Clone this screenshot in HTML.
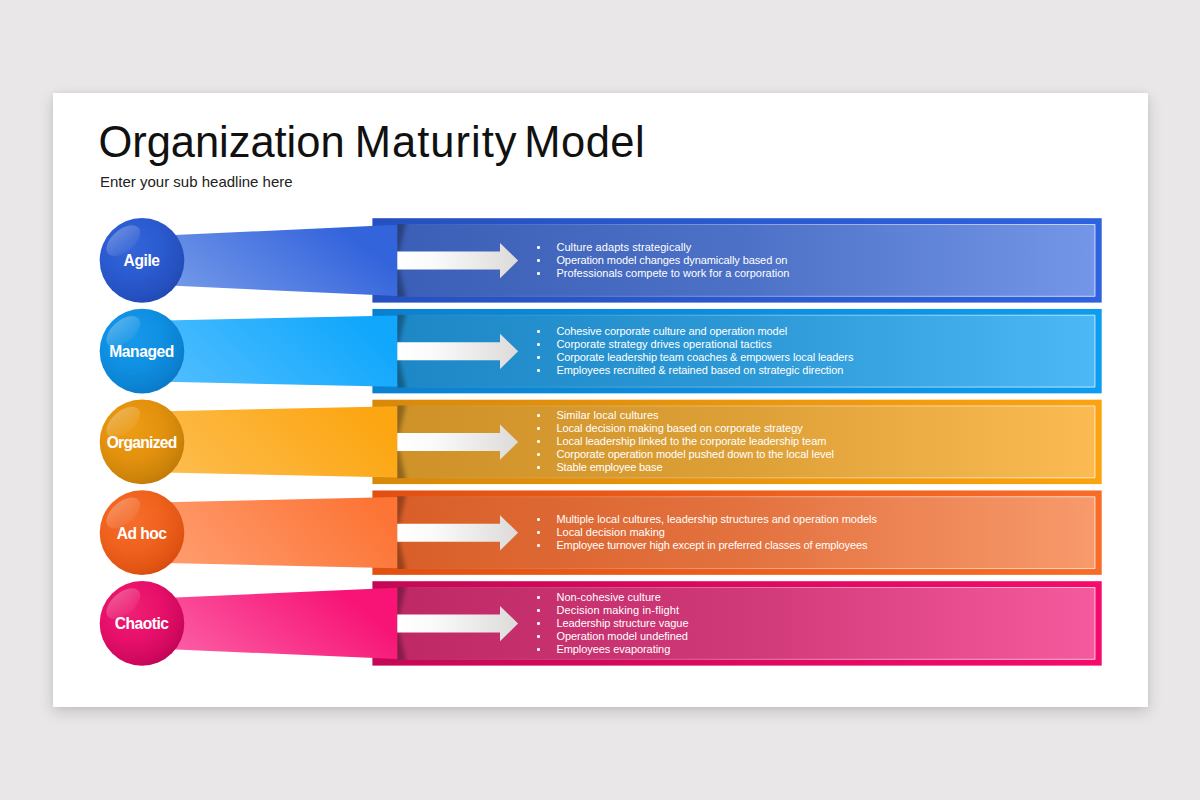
<!DOCTYPE html>
<html><head><meta charset="utf-8"><title>Organization Maturity Model</title>
<style>
html,body{margin:0;padding:0;}
body{width:1200px;height:800px;overflow:hidden;background:#e9e7e8;font-family:"Liberation Sans",sans-serif;position:relative;}
.slide{position:absolute;left:53px;top:93px;width:1095px;height:614px;background:#fff;box-shadow:0 5px 14px rgba(0,0,0,0.16),0 0 6px rgba(0,0,0,0.05);}
svg{position:absolute;left:0;top:0;}
h1{position:absolute;left:0;top:117.7px;margin:0;font-weight:400;font-size:43.5px;line-height:48px;color:#111;white-space:nowrap;}
h1 span{position:absolute;top:0;}
.sub{position:absolute;left:100px;top:173px;font-size:15px;line-height:18px;color:#222;white-space:nowrap;}
.lbl{position:absolute;left:91.6px;width:100px;text-align:center;color:#fff;font-weight:700;font-size:15.6px;line-height:20px;white-space:nowrap;letter-spacing:-0.42px;}
.li{position:absolute;left:556.4px;color:#fff;font-size:11px;line-height:13px;height:13px;white-space:nowrap;}
.li i{position:absolute;left:-19.5px;width:3px;height:3.1px;background:#fff;border-radius:1px;opacity:0.95;}
</style></head><body>
<div class="slide"></div>
<svg width="1200" height="800" viewBox="0 0 1200 800">
<defs>
<radialGradient id="sh" cx="0.5" cy="0.5" r="0.5"><stop offset="0" stop-color="#000" stop-opacity="0.34"/><stop offset="0.45" stop-color="#000" stop-opacity="0.15"/><stop offset="1" stop-color="#000" stop-opacity="0"/></radialGradient>
<filter id="bl" x="-50%" y="-20%" width="200%" height="140%"><feGaussianBlur stdDeviation="2.2"/></filter>
<linearGradient id="bd" gradientUnits="userSpaceOnUse" x1="397" y1="0" x2="1095" y2="0"><stop offset="0" stop-color="#fff" stop-opacity="0"/><stop offset="0.25" stop-color="#fff" stop-opacity="0.12"/><stop offset="0.6" stop-color="#fff" stop-opacity="0.4"/><stop offset="1" stop-color="#fff" stop-opacity="0.6"/></linearGradient>
<linearGradient id="ar" x1="0" y1="0" x2="1" y2="0"><stop offset="0" stop-color="#ffffff"/><stop offset="0.3" stop-color="#fafafa"/><stop offset="1" stop-color="#dddbda"/></linearGradient>
<linearGradient id="hl" x1="0" y1="0" x2="0" y2="1"><stop offset="0" stop-color="#fff" stop-opacity="0.26"/><stop offset="1" stop-color="#fff" stop-opacity="0.05"/></linearGradient>

<linearGradient id="t0" gradientUnits="userSpaceOnUse" x1="185" y1="286.2" x2="269.3" y2="174.4"><stop offset="0" stop-color="#7096e8"/><stop offset="1" stop-color="#3464dc"/></linearGradient>
<linearGradient id="p0" x1="0" y1="0" x2="1" y2="0"><stop offset="0" stop-color="#3b5fb6"/><stop offset="0.5" stop-color="#4d71c6"/><stop offset="1" stop-color="#7396e8"/></linearGradient>
<clipPath id="cp0"><rect x="397" y="224.00" width="60" height="72.8"/></clipPath>
<linearGradient id="o0" x1="0" y1="0" x2="1" y2="0"><stop offset="0" stop-color="#2550c0"/><stop offset="1" stop-color="#2f62e0"/></linearGradient>
<radialGradient id="c0" cx="0.38" cy="0.34" r="0.7"><stop offset="0" stop-color="#3464d8"/><stop offset="0.5" stop-color="#2b5bd0"/><stop offset="0.85" stop-color="#2550bf"/><stop offset="1" stop-color="#2149b4"/></radialGradient>
<linearGradient id="t1" gradientUnits="userSpaceOnUse" x1="185" y1="383.3" x2="299.6" y2="260.5"><stop offset="0" stop-color="#4cbcff"/><stop offset="1" stop-color="#10a7fc"/></linearGradient>
<linearGradient id="p1" x1="0" y1="0" x2="1" y2="0"><stop offset="0" stop-color="#1e88c6"/><stop offset="0.5" stop-color="#2d98d6"/><stop offset="1" stop-color="#4cb8f6"/></linearGradient>
<clipPath id="cp1"><rect x="397" y="314.75" width="60" height="72.8"/></clipPath>
<linearGradient id="o1" x1="0" y1="0" x2="1" y2="0"><stop offset="0" stop-color="#0a81d0"/><stop offset="1" stop-color="#0c9cf0"/></linearGradient>
<radialGradient id="c1" cx="0.38" cy="0.34" r="0.7"><stop offset="0" stop-color="#1898ea"/><stop offset="0.5" stop-color="#0f90e2"/><stop offset="0.85" stop-color="#0c82d2"/><stop offset="1" stop-color="#0a78c8"/></radialGradient>
<linearGradient id="t2" gradientUnits="userSpaceOnUse" x1="185" y1="474.1" x2="299.6" y2="351.2"><stop offset="0" stop-color="#fdbb4a"/><stop offset="1" stop-color="#fca612"/></linearGradient>
<linearGradient id="p2" x1="0" y1="0" x2="1" y2="0"><stop offset="0" stop-color="#ce9229"/><stop offset="0.5" stop-color="#dda037"/><stop offset="1" stop-color="#fbbb52"/></linearGradient>
<clipPath id="cp2"><rect x="397" y="405.50" width="60" height="72.8"/></clipPath>
<linearGradient id="o2" x1="0" y1="0" x2="1" y2="0"><stop offset="0" stop-color="#d8890a"/><stop offset="1" stop-color="#fba310"/></linearGradient>
<radialGradient id="c2" cx="0.38" cy="0.34" r="0.7"><stop offset="0" stop-color="#ec9c14"/><stop offset="0.5" stop-color="#e4920e"/><stop offset="0.85" stop-color="#ce840a"/><stop offset="1" stop-color="#c07a08"/></radialGradient>
<linearGradient id="t3" gradientUnits="userSpaceOnUse" x1="185" y1="564.4" x2="317.3" y2="445.3"><stop offset="0" stop-color="#ff9a6c"/><stop offset="1" stop-color="#fc7536"/></linearGradient>
<linearGradient id="p3" x1="0" y1="0" x2="1" y2="0"><stop offset="0" stop-color="#d95f29"/><stop offset="0.5" stop-color="#e3723f"/><stop offset="1" stop-color="#f89a6c"/></linearGradient>
<clipPath id="cp3"><rect x="397" y="496.25" width="60" height="72.8"/></clipPath>
<linearGradient id="o3" x1="0" y1="0" x2="1" y2="0"><stop offset="0" stop-color="#e15010"/><stop offset="1" stop-color="#f86c28"/></linearGradient>
<radialGradient id="c3" cx="0.38" cy="0.34" r="0.7"><stop offset="0" stop-color="#f66e2c"/><stop offset="0.5" stop-color="#f0621e"/><stop offset="0.85" stop-color="#e25514"/><stop offset="1" stop-color="#d84c0e"/></radialGradient>
<linearGradient id="t4" gradientUnits="userSpaceOnUse" x1="185" y1="649.9" x2="269.3" y2="538.1"><stop offset="0" stop-color="#fb5aa2"/><stop offset="1" stop-color="#f71476"/></linearGradient>
<linearGradient id="p4" x1="0" y1="0" x2="1" y2="0"><stop offset="0" stop-color="#be2965"/><stop offset="0.5" stop-color="#d03978"/><stop offset="1" stop-color="#f65a9e"/></linearGradient>
<clipPath id="cp4"><rect x="397" y="587.00" width="60" height="72.8"/></clipPath>
<linearGradient id="o4" x1="0" y1="0" x2="1" y2="0"><stop offset="0" stop-color="#c40856"/><stop offset="1" stop-color="#f60a6c"/></linearGradient>
<radialGradient id="c4" cx="0.38" cy="0.34" r="0.7"><stop offset="0" stop-color="#ee2074"/><stop offset="0.5" stop-color="#e8106a"/><stop offset="0.85" stop-color="#d1095e"/><stop offset="1" stop-color="#c20456"/></radialGradient>
</defs>

<g>
<rect x="372.4" y="218.20" width="729.3" height="84.4" fill="url(#o0)"/>
<rect x="397" y="224.00" width="698.4" height="72.8" fill="url(#p0)"/>
<g clip-path="url(#cp0)"><g filter="url(#bl)" fill="#000" fill-opacity="0.3"><polygon points="392,220.40 406.5,220.40 399,253.40 392,253.40"/><polygon points="392,300.40 406.5,300.40 399,267.40 392,267.40"/></g></g>
<path d="M397,224.50 H1094.9 V296.30 H397" fill="none" stroke="url(#bd)" stroke-width="1"/>
<polygon points="142,236.60 397.3,224.70 397.3,296.10 142,284.20" fill="url(#t0)"/>
<polygon points="397.3,251.60 500,251.60 500,242.90 518.1,260.60 500,278.30 500,269.60 397.3,269.60" fill="url(#ar)"/>
<circle cx="142" cy="260.40" r="42.3" fill="url(#c0)"/>
<ellipse cx="0" cy="0" rx="20" ry="11" transform="translate(123.3,240.60) rotate(-40)" fill="url(#hl)"/>
</g>
<g>
<rect x="372.4" y="308.95" width="729.3" height="84.4" fill="url(#o1)"/>
<rect x="397" y="314.75" width="698.4" height="72.8" fill="url(#p1)"/>
<g clip-path="url(#cp1)"><g filter="url(#bl)" fill="#000" fill-opacity="0.3"><polygon points="392,311.15 406.5,311.15 399,344.15 392,344.15"/><polygon points="392,391.15 406.5,391.15 399,358.15 392,358.15"/></g></g>
<path d="M397,315.25 H1094.9 V387.05 H397" fill="none" stroke="url(#bd)" stroke-width="1"/>
<polygon points="142,320.95 397.3,315.45 397.3,386.85 142,381.35" fill="url(#t1)"/>
<polygon points="397.3,342.35 500,342.35 500,333.65 518.1,351.35 500,369.05 500,360.35 397.3,360.35" fill="url(#ar)"/>
<circle cx="142" cy="351.15" r="42.3" fill="url(#c1)"/>
<ellipse cx="0" cy="0" rx="20" ry="11" transform="translate(123.3,331.35) rotate(-40)" fill="url(#hl)"/>
</g>
<g>
<rect x="372.4" y="399.70" width="729.3" height="84.4" fill="url(#o2)"/>
<rect x="397" y="405.50" width="698.4" height="72.8" fill="url(#p2)"/>
<g clip-path="url(#cp2)"><g filter="url(#bl)" fill="#000" fill-opacity="0.3"><polygon points="392,401.90 406.5,401.90 399,434.90 392,434.90"/><polygon points="392,481.90 406.5,481.90 399,448.90 392,448.90"/></g></g>
<path d="M397,406.00 H1094.9 V477.80 H397" fill="none" stroke="url(#bd)" stroke-width="1"/>
<polygon points="142,411.70 397.3,406.20 397.3,477.60 142,472.10" fill="url(#t2)"/>
<polygon points="397.3,433.10 500,433.10 500,424.40 518.1,442.10 500,459.80 500,451.10 397.3,451.10" fill="url(#ar)"/>
<circle cx="142" cy="441.90" r="42.3" fill="url(#c2)"/>
<ellipse cx="0" cy="0" rx="20" ry="11" transform="translate(123.3,422.10) rotate(-40)" fill="url(#hl)"/>
</g>
<g>
<rect x="372.4" y="490.45" width="729.3" height="84.4" fill="url(#o3)"/>
<rect x="397" y="496.25" width="698.4" height="72.8" fill="url(#p3)"/>
<g clip-path="url(#cp3)"><g filter="url(#bl)" fill="#000" fill-opacity="0.3"><polygon points="392,492.65 406.5,492.65 399,525.65 392,525.65"/><polygon points="392,572.65 406.5,572.65 399,539.65 392,539.65"/></g></g>
<path d="M397,496.75 H1094.9 V568.55 H397" fill="none" stroke="url(#bd)" stroke-width="1"/>
<polygon points="142,502.85 397.3,496.95 397.3,568.35 142,562.45" fill="url(#t3)"/>
<polygon points="397.3,523.85 500,523.85 500,515.15 518.1,532.85 500,550.55 500,541.85 397.3,541.85" fill="url(#ar)"/>
<circle cx="142" cy="532.65" r="42.3" fill="url(#c3)"/>
<ellipse cx="0" cy="0" rx="20" ry="11" transform="translate(123.3,512.85) rotate(-40)" fill="url(#hl)"/>
</g>
<g>
<rect x="372.4" y="581.20" width="729.3" height="84.4" fill="url(#o4)"/>
<rect x="397" y="587.00" width="698.4" height="72.8" fill="url(#p4)"/>
<g clip-path="url(#cp4)"><g filter="url(#bl)" fill="#000" fill-opacity="0.3"><polygon points="392,583.40 406.5,583.40 399,616.40 392,616.40"/><polygon points="392,663.40 406.5,663.40 399,630.40 392,630.40"/></g></g>
<path d="M397,587.50 H1094.9 V659.30 H397" fill="none" stroke="url(#bd)" stroke-width="1"/>
<polygon points="142,598.90 397.3,587.70 397.3,659.10 142,647.90" fill="url(#t4)"/>
<polygon points="397.3,614.60 500,614.60 500,605.90 518.1,623.60 500,641.30 500,632.60 397.3,632.60" fill="url(#ar)"/>
<circle cx="142" cy="623.40" r="42.3" fill="url(#c4)"/>
<ellipse cx="0" cy="0" rx="20" ry="11" transform="translate(123.3,603.60) rotate(-40)" fill="url(#hl)"/>
</g>
</svg>
<h1><span style="left:98.4px;letter-spacing:-0.04px">Organization</span><span style="left:354.8px;letter-spacing:1.0px">Maturity</span><span style="left:524.3px;letter-spacing:0.45px">Model</span></h1>
<div class="sub">Enter your sub headline here</div>
<div class="lbl" style="top:251.30px;letter-spacing:-0.42px">Agile</div>
<div class="li" style="top:241.00px;letter-spacing:0.079px"><i style="top:5.2px"></i><span>Culture adapts strategically</span></div>
<div class="li" style="top:254.00px;letter-spacing:-0.091px"><i style="top:5.2px"></i><span>Operation model changes dynamically based on</span></div>
<div class="li" style="top:267.00px;letter-spacing:0.003px"><i style="top:5.2px"></i><span>Professionals compete to work for a corporation</span></div>
<div class="lbl" style="top:342.05px;letter-spacing:-0.42px">Managed</div>
<div class="li" style="top:325.00px;letter-spacing:-0.091px"><i style="top:5.2px"></i><span>Cohesive corporate culture and operation model</span></div>
<div class="li" style="top:338.00px;letter-spacing:0.002px"><i style="top:5.2px"></i><span>Corporate strategy drives operational tactics</span></div>
<div class="li" style="top:351.00px;letter-spacing:-0.110px"><i style="top:5.2px"></i><span>Corporate leadership team coaches &amp; empowers local leaders</span></div>
<div class="li" style="top:364.00px;letter-spacing:-0.070px"><i style="top:5.2px"></i><span>Employees recruited &amp; retained based on strategic direction</span></div>
<div class="lbl" style="top:432.80px;letter-spacing:-0.72px">Organized</div>
<div class="li" style="top:409.00px;letter-spacing:0.065px"><i style="top:5.2px"></i><span>Similar local cultures</span></div>
<div class="li" style="top:422.00px;letter-spacing:-0.040px"><i style="top:5.2px"></i><span>Local decision making based on corporate strategy</span></div>
<div class="li" style="top:435.00px;letter-spacing:-0.061px"><i style="top:5.2px"></i><span>Local leadership linked to the corporate leadership team</span></div>
<div class="li" style="top:448.00px;letter-spacing:-0.068px"><i style="top:5.2px"></i><span>Corporate operation model pushed down to the local level</span></div>
<div class="li" style="top:461.00px;letter-spacing:-0.143px"><i style="top:5.2px"></i><span>Stable employee base</span></div>
<div class="lbl" style="top:523.55px;letter-spacing:-0.55px">Ad hoc</div>
<div class="li" style="top:513.00px;letter-spacing:-0.024px"><i style="top:5.2px"></i><span>Multiple local cultures, leadership structures and operation models</span></div>
<div class="li" style="top:526.00px;letter-spacing:0.018px"><i style="top:5.2px"></i><span>Local decision making</span></div>
<div class="li" style="top:539.00px;letter-spacing:-0.131px"><i style="top:5.2px"></i><span>Employee turnover high except in preferred classes of employees</span></div>
<div class="lbl" style="top:614.30px;letter-spacing:-0.5px">Chaotic</div>
<div class="li" style="top:591.00px;letter-spacing:0.063px"><i style="top:5.2px"></i><span>Non-cohesive culture</span></div>
<div class="li" style="top:604.00px;letter-spacing:0.148px"><i style="top:5.2px"></i><span>Decision making in-flight</span></div>
<div class="li" style="top:617.00px;letter-spacing:-0.046px"><i style="top:5.2px"></i><span>Leadership structure vague</span></div>
<div class="li" style="top:630.00px;letter-spacing:-0.048px"><i style="top:5.2px"></i><span>Operation model undefined</span></div>
<div class="li" style="top:643.00px;letter-spacing:-0.055px"><i style="top:5.2px"></i><span>Employees evaporating</span></div>
</body></html>
